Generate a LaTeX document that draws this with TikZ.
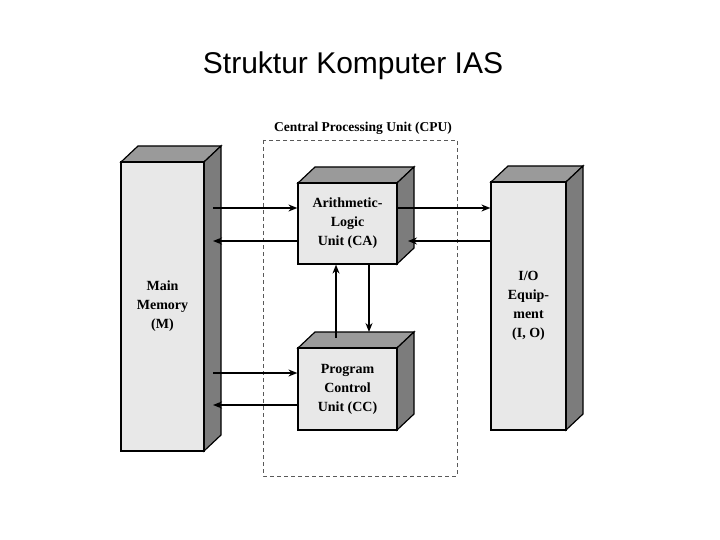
\documentclass[tikz,border=0pt]{standalone}
\usepackage{fontspec}
\setmainfont{Liberation Serif}
\newfontfamily\titlefont{Liberation Sans}
\usetikzlibrary{arrows.meta}
\definecolor{frontc}{HTML}{E8E8E8}
\definecolor{topc}{HTML}{9A9A9A}
\definecolor{sidec}{HTML}{7C7C7C}
\newcommand{\mycube}[6]{%
  \fill[topc,draw=black,line width=1.2pt] (#2,#3) -- ++(17,-16) -- (#4+17,#3-16) -- (#4,#3) -- cycle;
  \fill[sidec,draw=black,line width=1.2pt] (#4,#3) -- (#4+17,#3-16) -- (#4+17,#5-16) -- (#4,#5) -- cycle;
  \node[face,minimum width={#4-#2},minimum height={#5-#3}] (#1) at ({(#2+#4)/2},{(#3+#5)/2}) {#6};
}
\tikzset{
  face/.style={draw=black,line width=1.2pt,fill=frontc,inner sep=0pt,align=center,
    font=\fontsize{14}{19}\selectfont\bfseries},
  arr/.style={-{Stealth[length=9pt,width=7pt]},line width=1.4pt},
}
\begin{document}
\begin{tikzpicture}[x=1pt,y=-1pt]
\useasboundingbox (0,0) rectangle (720,540);
\node[font=\titlefont\fontsize{30}{34}\selectfont] (title) at (353,66) {Struktur Komputer IAS};
\draw[dashed,line width=0.8pt,dash pattern=on 4pt off 3pt,gray!70!black] (263,140) rectangle (457,476);
\node[font=\fontsize{13.5}{16}\selectfont\bfseries] (cpu) at (363,128) {Central Processing Unit (CPU)};
\mycube{mm}{121}{162}{204}{451}{Main\\Memory\\(M)}
\mycube{alu}{298}{183}{397}{264}{Arithmetic-\\Logic\\Unit (CA)}
\mycube{pcu}{298}{348}{397}{430}{Program\\Control\\Unit (CC)}
\mycube{io}{491}{182}{566}{430}{I/O\\Equip-\\ment\\(I, O)}
\coordinate (mmr) at (213,0);
\coordinate (alur) at (408,0);
\draw[arr] (mmr |- 0,208) -- (alu.west |- 0,208);
\draw[arr] (alu.west |- 0,241) -- (mmr |- 0,241);
\draw[arr] (alu.east |- 0,208) -- (io.west |- 0,208);
\draw[arr] (io.west |- 0,241) -- (alur |- 0,241);
\draw[arr] (mmr |- 0,373) -- (pcu.west |- 0,373);
\draw[arr] (pcu.west |- 0,405) -- (mmr |- 0,405);
\coordinate (pcutop) at (0,338);
\coordinate (pcuback) at (0,332);
\draw[arr] (336,0 |- pcutop) -- (336,0 |- alu.south);
\draw[arr] (369,0 |- alu.south) -- (369,0 |- pcuback);
\end{tikzpicture}
\end{document}
